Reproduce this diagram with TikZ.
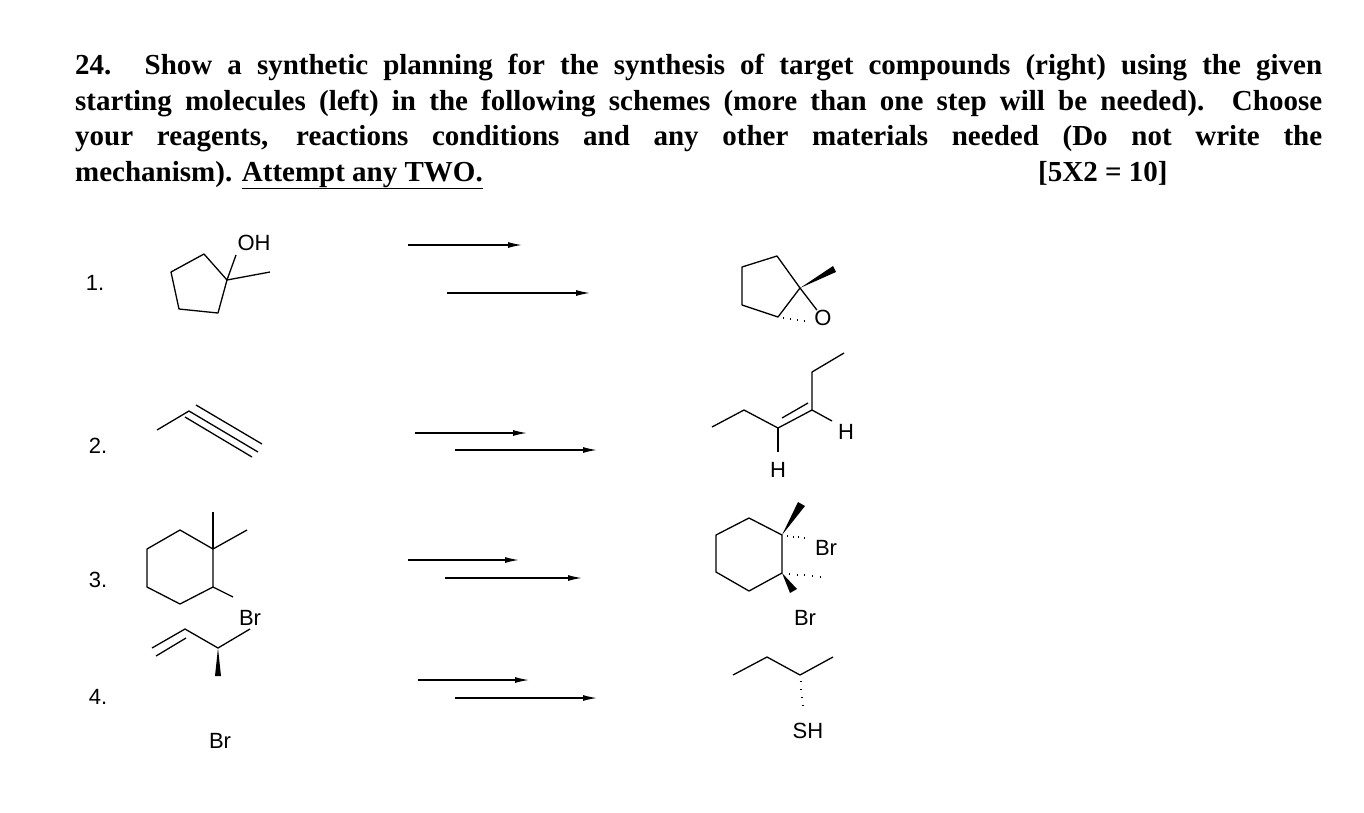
\documentclass[tikz,border=0pt]{standalone}
\usetikzlibrary{arrows.meta,calc}
\usepackage{fontspec}
\setmainfont{Liberation Serif}
\newfontfamily\chemf{Liberation Sans}
\begin{document}
\begin{tikzpicture}[x=1pt,y=-1pt,
  bond/.style={line width=1.3pt,line join=round},
  rxn/.style={line width=1.3pt,-{Latex[length=14pt,width=6pt]}},
  atom/.style={font=\chemf\fontsize{22}{22}\selectfont,inner sep=0pt},
  num/.style={font=\chemf\fontsize{22}{22}\selectfont,inner sep=0pt},
  head/.style={font=\bfseries\fontsize{29}{29}\selectfont,inner sep=0pt,anchor=base west}]
\useasboundingbox (0,0) rectangle (1364,812);
% heading
\node[head] (h1) at (75,74) {\makebox[1247pt][s]{24. Show a synthetic planning for the synthesis of target compounds (right) using the given}};
\node[head] (h2) at (75,110) {\makebox[1247pt][s]{starting molecules (left) in the following schemes (more than one step will be needed). Choose}};
\node[head] (h3) at (75,145) {\makebox[1247pt][s]{your reagents, reactions conditions and any other materials needed (Do not write the}};
\node[head] (h4) at (75,181) {mechanism). \underline{Attempt any TWO.}};
\node[head] (h5) at (1038,181) {[5X2 = 10]};
% numbers
\node[num] (n1) at (95,283) {1.};
\node[num] (n2) at (98,446) {2.};
\node[num] (n3) at (98,580) {3.};
\node[num] (n4) at (98,697) {4.};
% arrows
\coordinate (a1s) at (408,245); \coordinate (a1e) at (522,245);
\coordinate (b1s) at (447,293); \coordinate (b1e) at (590,293);
\coordinate (a2s) at (415,433); \coordinate (a2e) at (527,433);
\coordinate (b2s) at (455,450); \coordinate (b2e) at (597,450);
\coordinate (a3s) at (408,560); \coordinate (a3e) at (519,560);
\coordinate (b3s) at (445,578); \coordinate (b3e) at (582,578);
\coordinate (a4s) at (418,680); \coordinate (a4e) at (529,680);
\coordinate (b4s) at (455,698); \coordinate (b4e) at (597,698);
\foreach \p in {a1,b1,a2,b2,a3,b3,a4,b4} \draw[rxn] (\p s) -- (\p e);
% ---- compound 1 left
\draw[bond] (171,272) -- (204,254) -- (227,280) -- (218,313) -- (179,309) -- cycle;
\draw[bond] (227,280) -- (270,272);
\node[atom] (oh1) at (254,243) {OH};
\draw[bond] (227,280) -- (236,255);
% ---- compound 2 left
\draw[bond] (157,430) -- (189,411) -- (258,452);
\draw[bond] (196,405) -- (262,444);
\draw[bond] (185,417) -- (252,457);
% ---- compound 3 left
\draw[bond] (180,530) -- (213,549) -- (213,587) -- (180,604) -- (147,587) -- (147,549) -- cycle;
\draw[bond] (213,549) -- (213,512);
\draw[bond] (213,549) -- (247,530);
\draw[bond] (213,587) -- (233,597);
\node[atom] (br3) at (250,618) {Br};
% ---- compound 4 left
\draw[bond] (152,648) -- (185,629) -- (218,648) -- (250,629);
\draw[bond] (156,656) -- (186,638);
\fill (218,648) -- (215,676) -- (221,676) -- cycle;
\node[atom] (br4) at (220,741) {Br};
% ---- compound 1 right (epoxide)
\draw[bond] (742,267) -- (777,256) -- (800,288) -- (778,317) -- (742,305) -- cycle;
\fill (800,288) -- (833,266) -- (836,272) -- cycle;
\node[atom] (o1) at (823,318) {O};
\draw[bond] (800,288) -- (o1);
\foreach \t in {0.15,0.35,0.55,0.75}
  \draw[line width=1pt] ($(778,317)!\t!(813,318)+(0,-{1+4*\t})$) -- ($(778,317)!\t!(813,318)+(0,{1+4*\t})$);
% ---- compound 2 right
\draw[bond] (712,427) -- (744,410) -- (778,428) -- (812,410) -- (812,372) -- (844,353);
\draw[bond] (782,418) -- (808,403);
\draw[bond] (812,410) -- (832,421);
\node[atom] (h2a) at (846,432) {H};
\draw[bond] (778,428) -- (778,452);
\node[atom] (h2b) at (778,470) {H};
% ---- compound 3 right
\draw[bond] (749,518) -- (782,535) -- (782,573) -- (749,591) -- (716,572) -- (716,535) -- cycle;
\fill (782,535) -- (798,502) -- (805,506) -- cycle;
\fill (782,573) -- (790,593) -- (797,589) -- cycle;
\node[atom] (br5) at (826,548) {Br};
\node[atom] (br6) at (805,618) {Br};
\foreach \t in {0.2,0.4,0.6,0.8}
  \draw[line width=1pt] ($(782,535)!\t!(810,535)+(0,-{1+4*\t})$) -- ($(782,535)!\t!(810,535)+(0,{1+4*\t})$);
\foreach \t in {0.2,0.4,0.6,0.8,1.0}
  \draw[line width=1pt] ($(782,573)!\t!(820,573)+(0,-{1+4*\t})$) -- ($(782,573)!\t!(820,573)+(0,{1+4*\t})$);
% ---- compound 4 right
\draw[bond] (733,675) -- (767,657) -- (800,675) -- (833,657);
\node[atom] (sh) at (808,731) {SH};
\foreach \t in {0.2,0.45,0.7,0.95}
  \draw[line width=1pt] ($(800,675)!\t!(800,707)+(-{1+3*\t},0)$) -- ($(800,675)!\t!(800,707)+({1+3*\t},0)$);
\end{tikzpicture}
\end{document}
